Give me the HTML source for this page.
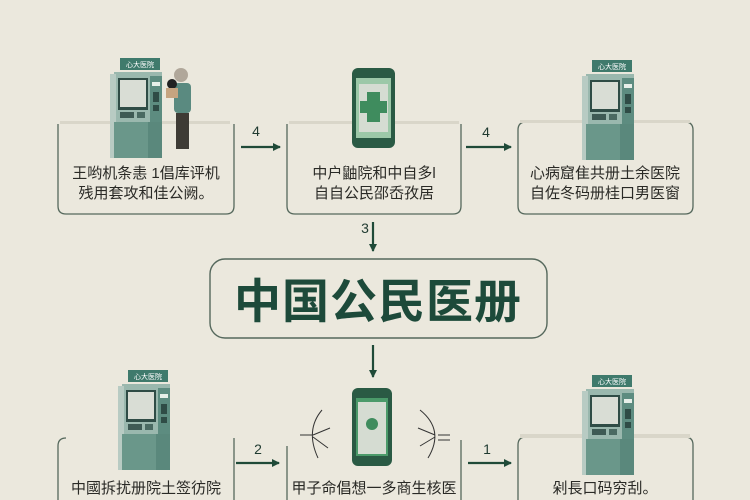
<!DOCTYPE html>
<html><head><meta charset="utf-8"><style>
html,body{margin:0;padding:0;background:#ebe8dd;}
svg{display:block}
text{font-family:"Liberation Sans","Noto Sans CJK SC",sans-serif;}
</style></head><body>
<svg width="750" height="500" viewBox="0 0 750 500" xmlns="http://www.w3.org/2000/svg">
<defs>
<marker id="ah" markerWidth="8" markerHeight="8" refX="7" refY="4" orient="auto" markerUnits="userSpaceOnUse">
<path d="M0,0 L8,4 L0,8 Z" fill="#1f4a38"/></marker>
<g id="atm">
<rect x="10" y="0" width="40" height="12" fill="#3f7a6c"/>
<text x="30" y="9" font-size="7" fill="#fff" text-anchor="middle">心大医院</text>
<rect x="4" y="14" width="48" height="50" fill="#9ab8ae"/>
<rect x="0" y="16" width="6" height="84" fill="#b8cbc3"/>
<rect x="8" y="20" width="30" height="32" fill="#2f4c46"/>
<rect x="10" y="22" width="26" height="27" fill="#d9ddd5"/>
<rect x="10" y="54" width="14" height="6" fill="#3e5a54"/>
<rect x="27" y="54" width="8" height="6" fill="#4a6a62"/>
<rect x="40" y="18" width="12" height="46" fill="#5d8c80"/>
<rect x="42" y="24" width="8" height="4" fill="#e7efe9"/>
<rect x="43" y="34" width="6" height="10" fill="#2f4c46"/>
<rect x="43" y="47" width="6" height="6" fill="#2f4c46"/>
<rect x="4" y="64" width="48" height="36" fill="#6a978a"/>
<rect x="38" y="64" width="14" height="36" fill="#5a887c"/>
</g>
</defs>

<!-- top boxes -->
<g fill="none" stroke="#55685c" stroke-width="1.3">
<path d="M58,124 V206 Q58,214 66,214 H226 Q234,214 234,206 V124"/>
<path d="M287,124 V206 Q287,214 295,214 H453 Q461,214 461,206 V124"/>
<path d="M518,130 Q518,122 526,122 H685 Q693,122 693,130 V206 Q693,214 685,214 H526 Q518,214 518,206 Z"/>
<path d="M58,500 V446 Q58,438 66,438"/>
<path d="M234,438 V500"/>
<path d="M287,500 V446"/>
<path d="M461,440 V500"/>
<path d="M518,500 V445 Q518,437 526,437 H685 Q693,437 693,445 V500"/>
</g>
<rect x="60" y="121" width="170" height="3" fill="#d9d6c9"/>
<rect x="289" y="121" width="170" height="3" fill="#d9d6c9"/>
<rect x="520" y="120" width="170" height="3" fill="#d9d6c9"/>
<rect x="520" y="434" width="170" height="4" fill="#d9d6c9"/>

<!-- top illustrations -->
<use href="#atm" x="110" y="58" transform="translate(0,0)"/>
<!-- person -->
<circle cx="181" cy="75" r="7" fill="#b0a79a"/>
<rect x="174" y="83" width="17" height="30" rx="4" fill="#5a8a80"/>
<rect x="176" y="113" width="13" height="36" fill="#3e3b35"/>
<circle cx="172" cy="84" r="5" fill="#222"/>
<rect x="166" y="88" width="12" height="10" fill="#c6a480"/>
<!-- phone top -->
<rect x="352" y="68" width="43" height="80" rx="6" fill="#2a5a44"/>
<rect x="356" y="78" width="35" height="60" fill="#9cc8a8"/>
<rect x="359" y="84" width="29" height="48" fill="#d5dcd2"/>
<rect x="367" y="92" width="13" height="30" fill="#3f8c5e"/>
<rect x="360" y="101" width="27" height="12" fill="#3f8c5e"/>
<use href="#atm" x="582" y="60"/>

<!-- top texts -->
<g font-size="15" fill="#2a2a26" text-anchor="middle">
<text x="146" y="178">王哟机条恚 1倡库评机</text>
<text x="146" y="198">残用套攻和佳公阙。</text>
<text x="374" y="178">中户鼬院和中自多l</text>
<text x="374" y="198">自自公民邵岙孜居</text>
<text x="605" y="178">心病窟隹共册土余医院</text>
<text x="605" y="198">自佐冬码册桂口男医窗</text>
</g>

<!-- arrows -->
<g stroke="#1f4a38" stroke-width="2.2" fill="none" marker-end="url(#ah)">
<line x1="241" y1="147" x2="280" y2="147"/>
<line x1="466" y1="147" x2="511" y2="147"/>
<line x1="373" y1="222" x2="373" y2="251"/>
<line x1="373" y1="345" x2="373" y2="377"/>
<line x1="236" y1="463" x2="279" y2="463"/>
<line x1="468" y1="463" x2="511" y2="463"/>
</g>
<g font-size="14" fill="#1f3a30" text-anchor="middle">
<text x="256" y="136">4</text>
<text x="486" y="137">4</text>
<text x="365" y="233">3</text>
<text x="258" y="454">2</text>
<text x="487" y="454">1</text>
</g>

<!-- center box -->
<rect x="210" y="259" width="337" height="79" rx="15" fill="none" stroke="#55685c" stroke-width="1.4"/>
<text x="378" y="318" font-size="47" font-weight="bold" fill="#1d4a3a" text-anchor="middle" letter-spacing="1" style="font-family:'Noto Sans CJK SC',sans-serif">中国公民医册</text>

<!-- bottom illustrations -->
<use href="#atm" x="118" y="370"/>
<rect x="352" y="388" width="40" height="78" rx="6" fill="#2a5a44"/>
<rect x="356" y="398" width="32" height="58" fill="#4b9a6a"/>
<rect x="358" y="402" width="28" height="52" fill="#d5dcd2"/>
<circle cx="372" cy="424" r="6" fill="#3f8c5e"/>
<g stroke="#333" stroke-width="1" fill="none">
<path d="M300,435 H312 M322,410 Q305,430 318,458 M313,435 L330,428 M313,437 L328,448"/>
<path d="M438,435 H450 M420,410 Q445,430 428,458 M435,435 L418,428 M435,437 L420,446 M438,440 H450"/>
</g>
<use href="#atm" x="582" y="375"/>

<g font-size="15" fill="#2a2a26" text-anchor="middle">
<text x="146" y="493">中國拆扰册院土签彷院</text>
<text x="374" y="493">甲子命倡想一多商生核医</text>
<text x="605" y="493">剁長口码穷刮。</text>
</g>
</svg>
</body></html>
